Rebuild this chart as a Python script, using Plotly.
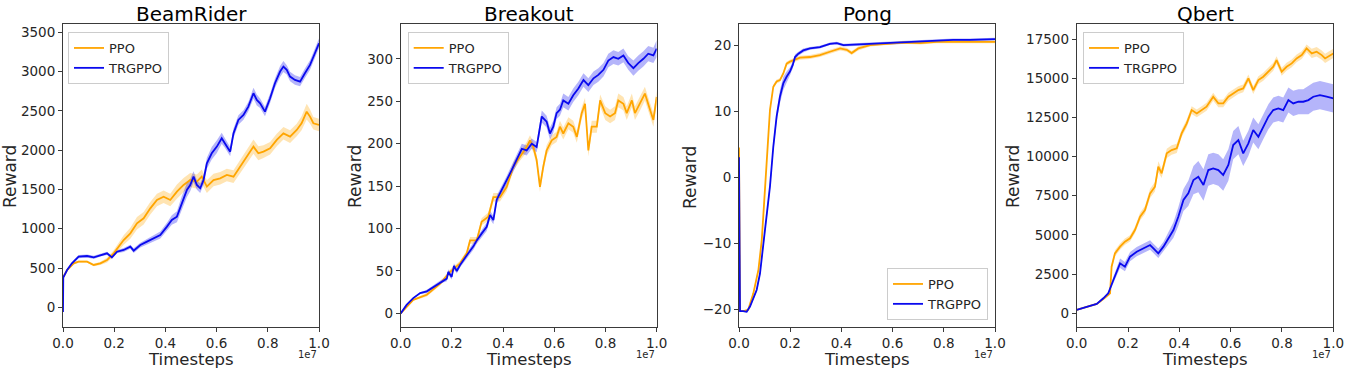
import plotly.graph_objects as go

# ---------------- data (x in units of 1e7 timesteps) ----------------
beam_ppo_t = [0, 0.016, 0.042, 0.061, 0.094, 0.120, 0.146, 0.172, 0.198, 0.217,
              0.237, 0.263, 0.289, 0.315, 0.341, 0.367, 0.393, 0.419, 0.445, 0.471,
              0.497, 0.523, 0.542, 0.562, 0.588, 0.614, 0.640, 0.666, 0.692, 0.718,
              0.744, 0.763, 0.783, 0.809, 0.835, 0.861, 0.887, 0.913, 0.932, 0.952,
              0.965, 0.978, 1.0]
beam_ppo_y = [380, 475, 560, 581, 581, 539, 560, 602, 687, 772,
              857, 942, 1069, 1133, 1260, 1366, 1408, 1366, 1472, 1557,
              1620, 1600, 1663, 1536, 1620, 1642, 1684, 1663, 1790, 1918,
              2045, 1960, 1981, 2024, 2130, 2214, 2172, 2257, 2342, 2490,
              2427, 2342, 2320]
beam_ppo_sd = [5, 10, 15, 15, 15, 15, 20, 30, 40, 50,
               60, 70, 80, 80, 80, 80, 80, 80, 90, 90,
               90, 90, 90, 80, 80, 80, 80, 80, 80, 90,
               90, 90, 80, 80, 80, 80, 80, 80, 90, 100,
               90, 80, 80]

beam_trg_t = [0, 0.001, 0.016, 0.035, 0.061, 0.094, 0.120, 0.146, 0.172, 0.191,
              0.211, 0.237, 0.263, 0.276, 0.302, 0.328, 0.354, 0.380, 0.406, 0.425,
              0.445, 0.464, 0.484, 0.497, 0.510, 0.523, 0.536, 0.549, 0.562, 0.581,
              0.601, 0.620, 0.633, 0.653, 0.666, 0.685, 0.705, 0.724, 0.744, 0.757,
              0.770, 0.789, 0.809, 0.828, 0.848, 0.861, 0.874, 0.887, 0.906, 0.926,
              0.945, 0.965, 0.984, 1.0]
beam_trg_y = [-60, 380, 475, 560, 645, 653, 636, 666, 687, 636,
              708, 730, 772, 721, 793, 836, 878, 920, 1027, 1111,
              1154, 1324, 1493, 1557, 1663, 1557, 1515, 1620, 1833, 1960,
              2045, 2151, 2087, 1981, 2214, 2384, 2448, 2554, 2724, 2639,
              2596, 2490, 2660, 2851, 3000, 3063, 3021, 2936, 2893, 2872,
              2978, 3084, 3233, 3360]
beam_trg_sd = [0, 10, 15, 20, 20, 20, 20, 20, 20, 20,
               20, 25, 25, 30, 30, 35, 40, 45, 50, 60,
               70, 90, 90, 80, 70, 60, 60, 60, 70, 80,
               80, 70, 60, 60, 60, 60, 60, 60, 70, 70,
               60, 60, 60, 60, 70, 70, 60, 60, 60, 60,
               60, 60, 60, 60]

brk_ppo_t = [0, 0.049, 0.102, 0.154, 0.193, 0.232, 0.258, 0.271, 0.297, 0.316,
             0.342, 0.362, 0.388, 0.414, 0.440, 0.466, 0.492, 0.505, 0.518, 0.531,
             0.544, 0.557, 0.570, 0.590, 0.609, 0.622, 0.635, 0.655, 0.674, 0.688,
             0.707, 0.720, 0.733, 0.746, 0.766, 0.779, 0.799, 0.818, 0.837, 0.850,
             0.870, 0.883, 0.903, 0.915, 0.935, 0.954, 0.974, 0.987, 1.0]
brk_ppo_y = [0, 16, 22, 35, 49, 59, 71, 86, 86, 108,
             114, 137, 137, 149, 173, 185, 196, 204, 196, 181,
             149, 173, 192, 204, 208, 220, 212, 224, 220, 208,
             236, 247, 192, 220, 220, 251, 236, 232, 236, 251,
             247, 236, 251, 236, 247, 259, 240, 228, 255]
brk_ppo_sd = [1, 1, 2, 2, 3, 3, 3, 4, 4, 4,
              5, 5, 5, 5, 5, 5, 6, 6, 6, 6,
              6, 6, 6, 6, 6, 7, 7, 7, 7, 7,
              7, 7, 7, 7, 7, 7, 8, 8, 8, 8,
              8, 8, 8, 8, 8, 8, 8, 8, 8]

brk_trg_t = [0, 0.023, 0.049, 0.076, 0.102, 0.128, 0.154, 0.180, 0.186, 0.199,
             0.208, 0.219, 0.232, 0.245, 0.264, 0.284, 0.297, 0.316, 0.336, 0.349,
             0.362, 0.375, 0.395, 0.414, 0.434, 0.453, 0.473, 0.492, 0.512, 0.531,
             0.551, 0.570, 0.583, 0.596, 0.609, 0.622, 0.635, 0.655, 0.674, 0.694,
             0.714, 0.733, 0.753, 0.772, 0.792, 0.811, 0.831, 0.850, 0.870, 0.889,
             0.909, 0.928, 0.948, 0.967, 0.987, 1.0]
brk_trg_y = [0, 10, 18, 24, 26, 31, 37, 41, 49, 43,
             56, 50, 57, 63, 71, 79, 86, 94, 102, 116,
             110, 134, 145, 157, 169, 181, 194, 192, 200, 196,
             232, 226, 212, 220, 236, 240, 251, 247, 257, 265,
             275, 269, 277, 281, 287, 298, 302, 300, 304, 295,
             289, 295, 300, 306, 304, 312]
brk_trg_sd = [1, 1, 1, 1, 2, 2, 2, 3, 3, 3,
              3, 3, 3, 3, 4, 4, 4, 4, 5, 5,
              5, 5, 5, 5, 6, 6, 6, 6, 6, 6,
              7, 7, 7, 7, 7, 7, 8, 8, 8, 8,
              8, 8, 8, 8, 8, 8, 8, 8, 8, 8,
              9, 9, 9, 9, 9, 10]

pong_ppo_t = [0, 0.004, 0.017, 0.036, 0.056, 0.076, 0.089, 0.102, 0.111, 0.121,
              0.134, 0.147, 0.160, 0.173, 0.186, 0.199, 0.219, 0.238, 0.277, 0.316,
              0.355, 0.395, 0.421, 0.440, 0.466, 0.512, 0.577, 0.642, 0.707, 0.772,
              0.837, 0.902, 1.0]
pong_ppo_y = [4.5, -20.3, -20.3, -20.1, -17.6, -14.0, -9.5, -1.4, 5.6, 10.2,
              13.7, 14.5, 14.7, 15.7, 17.2, 17.5, 17.8, 18.1, 18.2, 18.5,
              19.0, 19.5, 19.3, 18.8, 19.5, 20.0, 20.2, 20.4, 20.3, 20.5,
              20.5, 20.5, 20.5]
pong_ppo_sd = [0, 0.1, 0.1, 0.2, 0.3, 0.4, 0.5, 0.5, 0.5, 0.4,
               0.3, 0.3, 0.3, 0.3, 0.3, 0.3, 0.3, 0.3, 0.3, 0.3,
               0.3, 0.3, 0.3, 0.3, 0.3, 0.2, 0.2, 0.2, 0.2, 0.2,
               0.2, 0.2, 0.2]

pong_trg_t = [0, 0.004, 0.017, 0.030, 0.043, 0.056, 0.069, 0.082, 0.095, 0.108,
              0.121, 0.134, 0.147, 0.160, 0.173, 0.186, 0.199, 0.210, 0.219, 0.232,
              0.251, 0.277, 0.316, 0.355, 0.382, 0.408, 0.460, 0.512, 0.577, 0.642,
              0.707, 0.772, 0.837, 0.902, 1.0]
pong_trg_y = [3.0, -20.3, -20.3, -20.4, -19.6, -18.3, -17.1, -14.6, -10.5, -6.0,
              -1.4, 4.6, 9.2, 12.2, 14.2, 15.2, 16.0, 17.0, 18.2, 18.7,
              19.2, 19.5, 19.7, 20.2, 20.3, 20.0, 20.1, 20.2, 20.3, 20.4,
              20.5, 20.6, 20.8, 20.8, 20.9]
pong_trg_sd = [0, 0.1, 0.1, 0.1, 0.2, 0.2, 0.3, 0.4, 0.5, 0.5,
               0.6, 0.7, 0.8, 1.0, 1.0, 0.8, 0.6, 0.5, 0.4, 0.3,
               0.3, 0.2, 0.2, 0.2, 0.2, 0.2, 0.2, 0.2, 0.2, 0.2,
               0.2, 0.2, 0.2, 0.2, 0.2]

qb_ppo_t = [0, 0.039, 0.078, 0.091, 0.117, 0.130, 0.136, 0.149, 0.169, 0.188,
            0.208, 0.227, 0.247, 0.266, 0.286, 0.305, 0.318, 0.331, 0.351, 0.370,
            0.390, 0.409, 0.429, 0.448, 0.468, 0.487, 0.506, 0.532, 0.552, 0.571,
            0.591, 0.610, 0.630, 0.649, 0.669, 0.688, 0.708, 0.727, 0.747, 0.766,
            0.779, 0.799, 0.818, 0.838, 0.857, 0.877, 0.896, 0.916, 0.935, 0.955,
            0.968, 1.0]
qb_ppo_y = [213, 425, 595, 744, 1063, 1276, 2976, 3827, 4252, 4571,
            4784, 5315, 6165, 6591, 7654, 8079, 9354, 8929, 10205, 10417,
            10524, 11480, 12118, 12969, 12756, 12969, 13181, 13819, 13394, 13394,
            13819, 14032, 14244, 14350, 14988, 14244, 14882, 15095, 15413, 15732,
            16158, 15413, 15732, 15945, 16264, 16477, 16902, 16583, 16689, 16477,
            16264, 16583]
qb_ppo_sd = [50, 50, 50, 60, 80, 100, 150, 200, 200, 200,
             200, 200, 250, 250, 300, 300, 350, 300, 300, 300,
             300, 250, 250, 250, 250, 250, 250, 250, 250, 250,
             250, 250, 250, 250, 250, 250, 250, 250, 250, 250,
             250, 250, 250, 250, 250, 250, 250, 300, 300, 300,
             300, 300]

qb_trg_t = [0, 0.039, 0.078, 0.104, 0.123, 0.143, 0.169, 0.188, 0.208, 0.234,
            0.260, 0.286, 0.299, 0.318, 0.338, 0.357, 0.377, 0.396, 0.416, 0.435,
            0.455, 0.474, 0.494, 0.513, 0.532, 0.552, 0.571, 0.591, 0.610, 0.630,
            0.649, 0.669, 0.688, 0.708, 0.727, 0.747, 0.766, 0.786, 0.805, 0.825,
            0.844, 0.864, 0.883, 0.903, 0.922, 0.948, 0.974, 1.0]
qb_trg_y = [213, 425, 595, 957, 1276, 2126, 3189, 2976, 3614, 3933,
            4146, 4358, 4146, 3827, 4252, 4784, 5315, 6165, 7229, 7654,
            8504, 8717, 8185, 9142, 9248, 9142, 8823, 9461, 10737, 11055,
            10205, 10843, 11693, 11268, 11906, 12544, 12969, 13075, 12969, 13607,
            13394, 13500, 13500, 13607, 13819, 13926, 13819, 13713]
qb_trg_sd = [50, 50, 60, 80, 100, 200, 300, 300, 300, 300,
             300, 300, 300, 300, 300, 400, 500, 600, 700, 800,
             900, 1000, 1000, 1000, 1000, 1000, 1000, 1000, 900, 900,
             800, 800, 800, 800, 800, 800, 800, 800, 800, 800,
             800, 800, 800, 900, 900, 900, 900, 900]

games = ["BeamRider", "Breakout", "Pong", "Qbert"]
series = [
    [(beam_ppo_t, beam_ppo_y, beam_ppo_sd), (beam_trg_t, beam_trg_y, beam_trg_sd)],
    [(brk_ppo_t, brk_ppo_y, brk_ppo_sd), (brk_trg_t, brk_trg_y, brk_trg_sd)],
    [(pong_ppo_t, pong_ppo_y, pong_ppo_sd), (pong_trg_t, pong_trg_y, pong_trg_sd)],
    [(qb_ppo_t, qb_ppo_y, qb_ppo_sd), (qb_trg_t, qb_trg_y, qb_trg_sd)],
]
algo_names = ["PPO", "TRGPPO"]
y_ticks = [
    [0, 500, 1000, 1500, 2000, 2500, 3000, 3500],
    [0, 50, 100, 150, 200, 250, 300],
    [-20, -10, 0, 10, 20],
    [0, 2500, 5000, 7500, 10000, 12500, 15000, 17500],
]
y_ranges = [[-250, 3605], [-16, 341], [-22.7, 23.2], [-874, 18460]]
x_ticks = [0.0, 0.2, 0.4, 0.6, 0.8, 1.0]

# ---------------- styling ----------------
W, H = 1346, 368
colors = ["#FFA500", "#0A0AEE"]
fills = ["rgba(255,165,0,0.3)", "rgba(10,10,238,0.3)"]
FONT = "DejaVu Sans"
plot_px = [(63, 319), (400.7, 656.7), (739, 995), (1076.7, 1333.3)]
top_px, bot_px = 24, 327
reward_x_px = [10, 355, 690, 1013]
legend_pos = [
    dict(x=68 / W, y=1 - 32 / H, xanchor="left", yanchor="top"),
    dict(x=407.7 / W, y=1 - 32 / H, xanchor="left", yanchor="top"),
    dict(x=988 / W, y=1 - 320 / H, xanchor="right", yanchor="bottom"),
    dict(x=1083 / W, y=1 - 32 / H, xanchor="left", yanchor="top"),
]

fig = go.Figure()
annotations = []
layout_extra = {}

for i, g in enumerate(games):
    n = "" if i == 0 else str(i + 1)
    xa, ya = "x" + n, "y" + n
    leg = "legend" + n
    for k, (t, y, sd) in enumerate(series[i]):
        up = [a + b for a, b in zip(y, sd)]
        lo = [a - b for a, b in zip(y, sd)]
        fig.add_trace(go.Scatter(
            x=list(t) + list(t)[::-1], y=up + lo[::-1], fill="toself",
            fillcolor=fills[k], line=dict(width=0), mode="lines",
            hoverinfo="skip", showlegend=False, xaxis=xa, yaxis=ya))
    for k, (t, y, sd) in enumerate(series[i]):
        fig.add_trace(go.Scatter(
            x=t, y=y, mode="lines", name=algo_names[k],
            line=dict(color=colors[k], width=1.8),
            showlegend=True, legend=leg, xaxis=xa, yaxis=ya))

    x0, x1 = plot_px[i]
    axis_common = dict(showline=True, linecolor="#3a3a3a", linewidth=1, mirror=True,
                       ticks="outside", ticklen=4, tickwidth=1, tickcolor="#3a3a3a",
                       showgrid=False, zeroline=False, automargin=False,
                       tickfont=dict(family=FONT, size=13.5, color="#262626"))
    layout_extra["xaxis" + n] = dict(
        domain=[x0 / W, x1 / W], range=[0, 1], anchor=ya,
        tickvals=x_ticks, ticktext=["%.1f" % v for v in x_ticks], **axis_common)
    layout_extra["yaxis" + n] = dict(
        domain=[1 - bot_px / H, 1 - top_px / H], range=y_ranges[i], anchor=xa,
        tickvals=y_ticks[i],
        ticktext=[("\u2212%d" % -v) if v < 0 else "%d" % v for v in y_ticks[i]],
        **axis_common)
    layout_extra[leg] = dict(
        bgcolor="white", bordercolor="#cccccc", borderwidth=1,
        font=dict(family=FONT, size=13, color="#262626"),
        itemwidth=30, tracegroupgap=0, **legend_pos[i])

    cx = (x0 + x1) / 2 / W
    annotations.append(dict(text=g, x=cx, y=1 - 14 / H, xref="paper", yref="paper",
                            showarrow=False, xanchor="center", yanchor="middle",
                            font=dict(family=FONT, size=20, color="black")))
    annotations.append(dict(text="Timesteps", x=cx, y=1 - 359 / H, xref="paper", yref="paper",
                            showarrow=False, xanchor="center", yanchor="middle",
                            font=dict(family=FONT, size=16.5, color="#262626")))
    annotations.append(dict(text="1e7", x=x1 / W, y=1 - 354 / H, xref="paper", yref="paper",
                            showarrow=False, xanchor="right", yanchor="middle",
                            font=dict(family=FONT, size=10, color="#262626")))
    annotations.append(dict(text="Reward", x=reward_x_px[i] / W, y=1 - 177 / H,
                            xref="paper", yref="paper", textangle=-90,
                            showarrow=False, xanchor="center", yanchor="middle",
                            font=dict(family=FONT, size=17, color="#262626")))

fig.update_layout(
    width=W, height=H, margin=dict(l=0, r=0, t=0, b=0, pad=0, autoexpand=False),
    paper_bgcolor="white", plot_bgcolor="white",
    annotations=annotations, **layout_extra)

fig.write_html("out.html",
               config={"displayModeBar": False},
               post_script="document.body.style.margin='0';"
                           "document.body.style.overflow='hidden';"
                           "document.documentElement.style.overflow='hidden';")
